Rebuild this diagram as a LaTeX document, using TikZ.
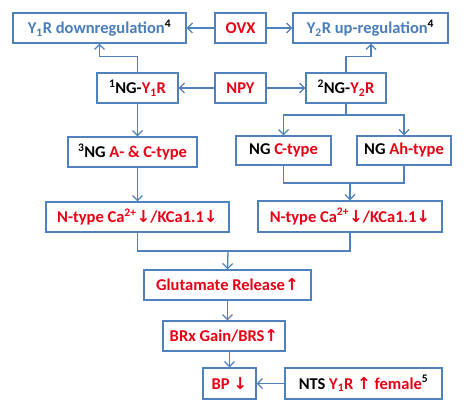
\documentclass[tikz,border=0pt]{standalone}
\usepackage{fontspec}
\setmainfont{Carlito}
\newfontfamily\arrfont{DejaVu Sans}
\usetikzlibrary{arrows.meta}
\definecolor{bx}{RGB}{79,129,189}
\definecolor{bt}{RGB}{74,126,187}
\definecolor{rd}{RGB}{232,0,20}
\newcommand{\dn}{{\arrfont\char"2193}}
\newcommand{\up}{{\arrfont\char"2191}}
\begin{document}
\begin{tikzpicture}[x=1pt,y=-1pt,
  box/.style={draw=bx,line width=1.3pt,minimum height=30pt,inner sep=0pt,
    font=\fontsize{16.5}{19}\selectfont\bfseries},
  ln/.style={draw=bx,line width=1.3pt},
  arr/.style={ln,-{Straight Barb[length=5pt,width=10pt,line width=1.2pt]}}]
\useasboundingbox[fill=white] (0,0) rectangle (474,417);
\node[box,minimum width=173pt,text=bt] (yd) at (99.5,28) {Y\textsubscript{1}R downregulation\textcolor{black}{\textsuperscript{4}}};
\node[box,minimum width=51pt,text=rd] (ovx) at (240.5,28) {OVX};
\node[box,minimum width=155pt,text=bt] (yu) at (370.5,28) {Y\textsubscript{2}R up-regulation\textcolor{black}{\textsuperscript{4}}};
\node[box,minimum width=81pt] (ng1) at (137.5,88) {\textsuperscript{1}NG-\textcolor{rd}{Y\textsubscript{1}R}};
\node[box,minimum width=51pt,text=rd] (npy) at (240.5,88) {NPY};
\node[box,minimum width=80pt] (ng2) at (346,88) {\textsuperscript{2}NG-\textcolor{rd}{Y\textsubscript{2}R}};
\node[box,minimum width=129pt] (ng3) at (132.5,152) {\textsuperscript{3}NG \textcolor{rd}{A- \& C-type}};
\node[box,minimum width=95pt,minimum height=29pt] (ngc) at (283.5,150.5) {NG \textcolor{rd}{C-type}};
\node[box,minimum width=94pt,minimum height=29pt] (nga) at (404,150.5) {NG \textcolor{rd}{Ah-type}};
\node[box,minimum width=183pt,text=rd] (nl) at (137.5,217) {N-type Ca\textsuperscript{2+}\dn/KCa1.1\dn};
\node[box,minimum width=184pt,minimum height=31pt,text=rd] (nr) at (350,216.5) {N-type Ca\textsuperscript{2+}\dn/KCa1.1\dn};
\node[box,minimum width=167pt,text=rd] (glu) at (227.5,285) {Glutamate Release\up};
\node[box,minimum width=122pt,text=rd] (brx) at (224,336) {BRx Gain/BRS\up};
\node[box,minimum width=53pt,minimum height=31pt,text=rd] (bp) at (229.5,383.5) {BP \dn};
\node[box,minimum width=157pt,minimum height=31pt] (nts) at (363.5,383.5) {NTS \textcolor{rd}{Y\textsubscript{1}R \up\ female}\textsuperscript{5}};
% connectors
\draw[arr] (ovx) -- (yd);
\draw[arr] (ovx) -- (yu);
\draw[arr] (npy) -- (ng1);
\draw[arr] (npy) -- (ng2);
\draw[arr] (ng1.north) -- ++(0,-16) -| (yd.south);
\draw[arr] (ng2.north) -- ++(0,-16) -| ([xshift=25pt]ng2.north |- yu.south);
\draw[arr] (ng1.south) -- (ng1.south |- ng3.north);
\draw[arr] (ng3.south -| nl.north) -- (nl.north);
\coordinate (s1) at (346,115);
\draw[ln] (ng2.south) -- (s1);
\draw[arr] (s1) -| (ngc.north);
\draw[arr] (s1) -| (nga.north);
\coordinate (m1) at (350,183);
\draw[ln] (ngc.south) |- (m1) -| (nga.south);
\draw[arr] (m1) -- (nr.north);
\coordinate (m2) at (228,251);
\draw[ln] (nl.south) |- (m2) -| (nr.south);
\draw[arr] (m2) -- (glu.north);
\draw[arr] (glu.south) -- (glu.south |- brx.north);
\draw[arr] (bp.north |- brx.south) -- (bp.north);
\draw[arr] (nts) -- (bp);
\end{tikzpicture}
\end{document}
